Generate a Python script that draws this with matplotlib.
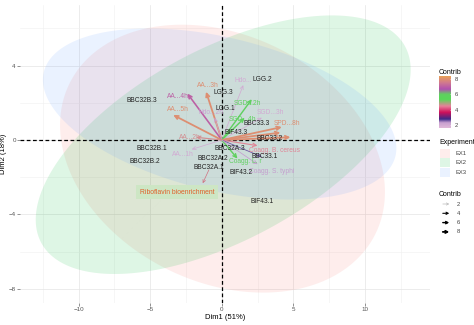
"""PCA biplot (Dim1 vs Dim2) with experiment ellipses"""
import numpy as np
import matplotlib.pyplot as plt
from matplotlib.colors import LinearSegmentedColormap
from matplotlib.patches import Rectangle, FancyArrowPatch

plt.rcParams['font.family'] = ['Liberation Sans', 'DejaVu Sans']

# variables (arrows)
var_names = ['AA...3h', 'AA...4h', 'AA...5h', 'Hdo...', 'Hdo...2h', 'SGD...2h',
             'SGD...3h', 'SGD...4h', 'SPD...8h', 'SPD...7h', 'SPD...6h',
             'Coagg. B. cereus', 'Coagg. E. coli', 'Coagg. L. r', 'Coagg. S. typhi',
             'AA...1h', 'AA...2h']
var_x = [-1.1, -2.4, -3.4, 1.5, -0.5, 2.1, 2.8, 1.6, 4.2, 4.1, 4.8,
         2.5, 2.8, 1.1, 2.5, -2.1, -1.8]
var_y = [2.6, 2.5, 1.35, 2.95, 1.2, 2.2, 1.2, 1.2, 0.7, 0.4, 0.15,
         -0.3, -0.9, -1.0, -1.3, -0.5, 0.15]
var_contrib = [8, 7, 8, 2, 2.2, 6, 2, 5.8, 8, 8, 8, 4.5, 2.6, 6, 2.3, 2, 4.6]

# individuals (text labels)
ind_names = ['BBC32B.3', 'LGG.2', 'LGG.3', 'LGG.1', 'BBC33.3', 'BIF43.3', 'BBC33.2',
             'BBC32A.3', 'BBC33.1', 'BBC32A.2', 'BBC32A.1', 'BIF43.2', 'BIF43.1',
             'BBC32B.1', 'BBC32B.2']
ind_x = [-5.6, 2.8, 0.14, 0.28, 2.45, 0.98, 3.36, 0.56, 3.0, -0.63, -0.9, 1.33, 2.8, -4.9, -5.4]
ind_y = [2.15, 3.23, 2.53, 1.67, 0.91, 0.38, 0.1, -0.48, -0.91, -0.97, -1.5, -1.72, -3.33, -0.48, -1.18]

# experiment ellipses: centre, half extents, correlation
exp_names = ['EX1', 'EX2', 'EX3']
exp_colors = ['#F8766D', '#00BA38', '#619CFF']
ell_cx = [0.05, 0.1, -0.15]
ell_cy = [-1.0, -0.25, 1.4]
ell_ax = [11.35, 13.1, 12.35]
ell_ay = [7.2, 6.95, 4.6]
ell_corr = [-0.25, 0.58, -0.4]

legend_sizes = [2, 4, 6, 8]

# label offsets (points) from arrow tips
lab_off = [(1.4, 4.3), (-7.2, -2.2), (3.6, 3.6), (0, 3.6), (-2.5, 3.6), (-2.9, -2.9),
           (6.5, 3.6), (-1.4, -1.4), (3.6, 2.2), (-7.6, -3.9), None,
           (12.4, -3.6), None, (5.3, -1.7), (10.3, -4.9), (-6.5, -3.4), (-4.3, 0)]

cmap = LinearSegmentedColormap.from_list('contrib', [
    (0.0, '#e0b8d8'), (0.1, '#c8a0d0'), (0.17, '#3c2a88'), (0.3, '#d0105a'),
    (0.42, '#e8809a'), (0.55, '#58d858'), (0.65, '#60d060'), (0.75, '#b050b0'),
    (0.87, '#d07890'), (1.0, '#e8a058')])
cmin, cmax = 1.6, 8.4


def width(c):
    return 0.25 + 0.13 * c


W, H = 474, 325
fig = plt.figure(figsize=(W / 100, H / 100), dpi=100)
ax = fig.add_axes([20 / W, 1 - 303 / H, 410 / W, 298 / H])
ax.set_xlim(-14.1, 14.55)
ax.set_ylim(-8.76, 7.26)

ax.set_xticks([-10, -5, 0, 5, 10])
ax.set_yticks([-8, -4, 0, 4])
ax.set_xticks([-12.5, -7.5, -2.5, 2.5, 7.5, 12.5], minor=True)
ax.set_yticks([-6, -2, 2, 6], minor=True)
ax.grid(which='major', color='#e4e4e4', lw=0.5)
ax.grid(which='minor', color='#f0f0f0', lw=0.4)
ax.set_axisbelow(True)
for s in ax.spines.values():
    s.set_visible(False)
ax.tick_params(which='major', length=2, width=0.5, color='#666666',
               labelsize=4.5, labelcolor='#555555', pad=1)
ax.tick_params(which='minor', length=0)
ax.set_xlabel('Dim1 (51%)', fontsize=5.5, labelpad=1)
ax.set_ylabel('Dim2 (18%)', fontsize=5.5, labelpad=1)

# ellipses
t = np.linspace(0, 2 * np.pi, 300)
for i in range(len(exp_names)):
    phi = np.arccos(ell_corr[i])
    ex = ell_cx[i] + ell_ax[i] * np.cos(t)
    ey = ell_cy[i] + ell_ay[i] * np.cos(t - phi)
    ax.fill(ex, ey, color=exp_colors[i], alpha=0.13, lw=0, zorder=1)

ax.axhline(0, color='black', lw=0.9, ls=(0, (3, 2)), zorder=2)
ax.axvline(0, color='black', lw=0.9, ls=(0, (3, 2)), zorder=2)

# arrows
for i, name in enumerate(var_names):
    c = cmap((var_contrib[i] - cmin) / (cmax - cmin))
    ax.annotate('', xy=(var_x[i], var_y[i]), xytext=(0, 0),
                arrowprops=dict(arrowstyle='->,head_length=0.25,head_width=0.12',
                                color=c, lw=width(var_contrib[i]),
                                shrinkA=0, shrinkB=0), zorder=3)
    if lab_off[i] is not None:
        ax.annotate(name, (var_x[i], var_y[i]), xytext=lab_off[i],
                    textcoords='offset points', ha='center', va='center',
                    fontsize=4.8, color=c, zorder=4)

# individuals
for i, name in enumerate(ind_names):
    ax.text(ind_x[i], ind_y[i], name, fontsize=4.8, color='#222222',
            ha='center', va='center', zorder=5)

# annotation box
ax.annotate('', xy=(-1.33, -2.32), xytext=(-0.9, -1.6),
            arrowprops=dict(arrowstyle='->,head_length=0.2,head_width=0.1',
                            color='#d07080', lw=0.5, shrinkA=0, shrinkB=0), zorder=5)
ax.text(-3.1, -2.8, 'Riboflavin bioenrichment', fontsize=4.9, color='#e0602a',
        ha='center', va='center', zorder=6,
        bbox=dict(boxstyle='square,pad=0.55', fc='#cde6c4', ec='none'))


def fx(px):
    return px / W


def fy(py):
    return 1 - py / H


# colour legend
fig.text(fx(439), fy(72), 'Contrib', fontsize=5, va='center')
cax = fig.add_axes([fx(439), fy(128), 11 / W, 52 / H])
grad = np.linspace(cmin, cmax, 200).reshape(-1, 1)
cax.imshow(grad, aspect='auto', cmap=cmap, origin='lower',
           extent=[0, 1, cmin, cmax], vmin=cmin, vmax=cmax)
cax.set_xticks([])
cax.yaxis.tick_right()
cax.set_yticks(legend_sizes)
cax.tick_params(length=1.5, width=0.4, color='white', labelsize=4.2,
                labelcolor='#444444', pad=2)
for s in cax.spines.values():
    s.set_visible(False)

# experiment legend
fig.text(fx(439), fy(143), 'Experiment', fontsize=5, va='center')
for i, name in enumerate(exp_names):
    yy = 153 + 9.5 * i
    fig.patches.append(Rectangle((fx(440), fy(yy + 4.5)), 10 / W, 9 / H,
                                 transform=fig.transFigure, fc=exp_colors[i],
                                 alpha=0.13, ec='none'))
    fig.text(fx(455), fy(yy), name, fontsize=4.2, color='#444444', va='center')

# size legend
fig.text(fx(439), fy(195), 'Contrib', fontsize=5, va='center')
for i, s in enumerate(legend_sizes):
    yy = 204 + 9.3 * i
    fig.add_artist(FancyArrowPatch(
        (fx(440), fy(yy)), (fx(452), fy(yy)), transform=fig.transFigure,
        arrowstyle='->,head_length=1.5,head_width=0.8',
        color='#bbbbbb' if s == 2 else 'black', lw=width(s)))
    fig.text(fx(457), fy(yy), str(s), fontsize=4.2, color='#444444', va='center')

fig.savefig('out.png', dpi=100)
